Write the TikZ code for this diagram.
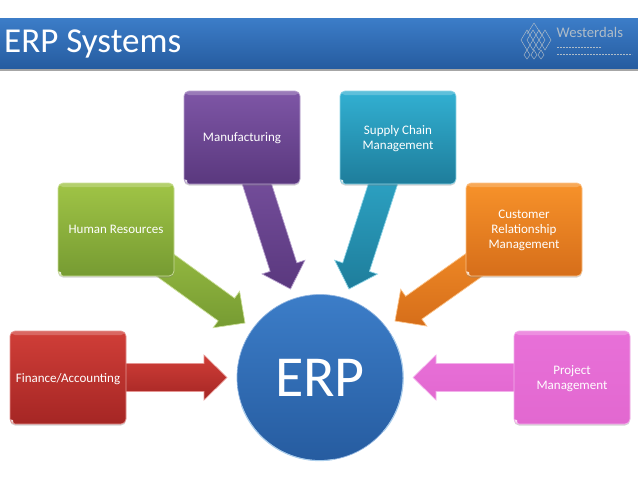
\documentclass[tikz,border=0pt]{standalone}
\usepackage{fontspec}
\setmainfont{Carlito}
\usetikzlibrary{calc, shadows}
\pgfdeclarelayer{background}
\pgfsetlayers{background,main}
\definecolor{barTop}{RGB}{60,125,200}
\definecolor{barBot}{RGB}{38,92,160}
\definecolor{logoGrey}{RGB}{175,188,200}
\definecolor{rimBlue}{RGB}{170,205,235}
\definecolor{redTop}{RGB}{208,62,56}
\definecolor{redBot}{RGB}{165,38,36}
\definecolor{greenTop}{RGB}{160,196,70}
\definecolor{greenBot}{RGB}{118,155,50}
\definecolor{violetTop}{RGB}{126,86,166}
\definecolor{violetBot}{RGB}{90,56,126}
\definecolor{tealTop}{RGB}{50,176,210}
\definecolor{tealBot}{RGB}{30,125,155}
\definecolor{orangeTop}{RGB}{247,146,42}
\definecolor{orangeBot}{RGB}{214,110,26}
\definecolor{pinkTop}{RGB}{232,112,216}
\definecolor{pinkBot}{RGB}{226,104,208}
\tikzset{
  gloss/.style 2 args={top color=#1,bottom color=#2,draw=#1!55!white,line width=.7pt},
  boxstyle/.style={rectangle,rounded corners=5pt,minimum width=116pt,minimum height=93pt,
    inner sep=0pt,text=white,align=center,text depth=0pt,font=\fontsize{13}{15}\selectfont,
    drop shadow={shadow xshift=0pt,shadow yshift=-1.5pt,opacity=.35},
    path picture={
      \fill[white,opacity=.22] (path picture bounding box.north west) rectangle ++(116pt,-4pt);
      \fill[white,opacity=.8] (path picture bounding box.south west) -- ++(0pt,7pt) -- ++(6pt,-7pt) -- cycle;
    }},
  logoline/.style={draw=logoGrey,line width=.45pt},
}
% block arrow: box centre to tip, lying under the boxes
\newcommand{\blockarrow}[4]{
  \coordinate (#2b) at ($(#2)!23pt!(#1)$);
  \draw[gloss={#3}{#4}] ($(#1)!14pt!-90:(#2)$) -- ($(#2b)!14pt!-90:(#2)$) -- ($(#2b)!22.5pt!-90:(#2)$)
    -- (#2) -- ($(#2b)!22.5pt!90:(#2)$) -- ($(#2b)!14pt!90:(#2)$) -- ($(#1)!14pt!90:(#2)$) -- cycle;
}
\begin{document}
\begin{tikzpicture}[x=1pt,y=-1pt]
  \useasboundingbox (0,0) rectangle (638,479);

  %title bar
  \fill[black!35] (0,19) rectangle (638,71);
  \shade[top color=barTop,bottom color=barBot] (0,18) rectangle (638,68);
  \node[anchor=west,text=white,font=\fontsize{35}{37}\selectfont,inner sep=0pt] (title) at (4,44) {ERP Systems};
  \node[anchor=west,text=logoGrey,font=\fontsize{14.7}{16}\selectfont,inner sep=0pt] (brand) at (556.5,32) {Westerdals};

  %logo lattice
  \foreach \x in {0,1,2,3}{
    \draw[logoline] (521+\x*6,40) -- (527+\x*6,30) -- (533+\x*6,40) -- (527+\x*6,50) -- cycle;
  }
  \draw[logoline] (534,23) -- (527,34) (534,23) -- (541,34);
  \foreach \x in {527,534,541}{
    \draw[logoline] (\x,50) -- (\x-3,55) -- (\x,59) -- (\x+3,55) -- cycle;
  }
  %unreadable small print of the logo
  \draw[logoline,dash pattern=on 2pt off 1pt] (557,47) -- (601,47);
  \draw[logoline,dash pattern=on 2pt off 1pt] (557,54) -- (632,54);

  %the boxes
  \node[boxstyle,gloss={redTop}{redBot}] (fin) at (68,377.5) {Finance/Accounting};
  \node[boxstyle,gloss={greenTop}{greenBot}] (hr) at (116,229.5) {Human Resources};
  \node[boxstyle,gloss={violetTop}{violetBot}] (mfg) at (242,137.5) {Manufacturing};
  \node[boxstyle,gloss={tealTop}{tealBot}] (scm) at (398,137.5) {Supply Chain\\Management};
  \node[boxstyle,gloss={orangeTop}{orangeBot}] (crm) at (524,229.5) {Customer\\Relationship\\Management};
  \node[boxstyle,gloss={pinkTop}{pinkBot}] (pm) at (572,377.5) {Project\\Management};

  %the hub
  \node[circle,minimum size=166pt,inner sep=0pt,gloss={barTop}{barBot},text=white,
    font=\fontsize{58}{60}\selectfont] (erp) at (320,377.5) {ERP};
  \draw[rimBlue,line width=1pt] (erp.200) arc[start angle=200,end angle=280,radius=83pt];
  \draw[rimBlue,line width=1pt] (erp.-40) arc[start angle=-40,end angle=30,radius=83pt];

  %arrow tips
  \coordinate (tfin) at (227,377.5);
  \coordinate (thr) at (245,323);
  \coordinate (tmfg) at (290.5,289);
  \coordinate (tscm) at (349,289);
  \coordinate (tcrm) at (395,321);
  \coordinate (tpm) at (413,377.5);

  \begin{pgfonlayer}{background}
    \blockarrow{fin}{tfin}{redTop}{redBot}
    \blockarrow{hr}{thr}{greenTop}{greenBot}
    \blockarrow{mfg}{tmfg}{violetTop}{violetBot}
    \blockarrow{scm}{tscm}{tealTop}{tealBot}
    \blockarrow{crm}{tcrm}{orangeTop}{orangeBot}
    \blockarrow{pm}{tpm}{pinkTop}{pinkBot}
  \end{pgfonlayer}
\end{tikzpicture}
\end{document}
